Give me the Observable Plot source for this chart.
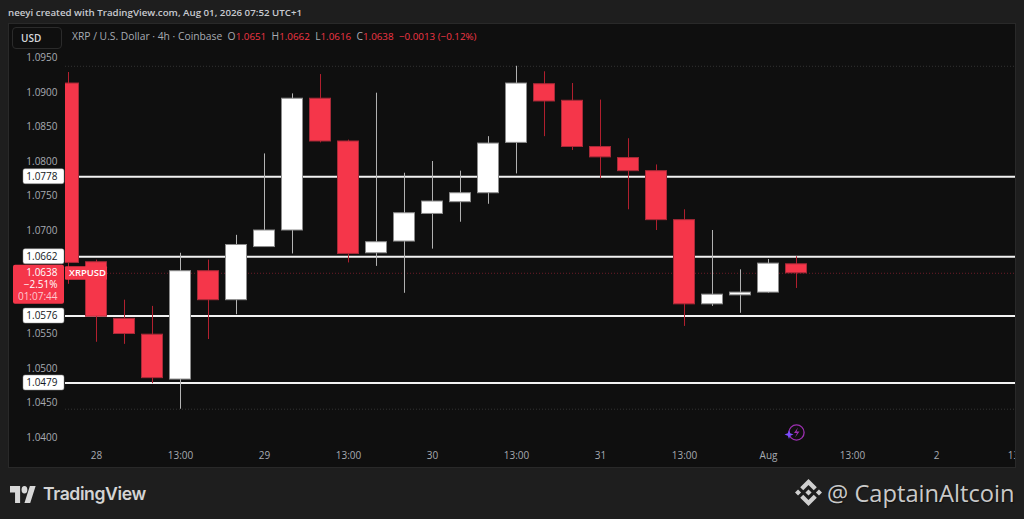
<!DOCTYPE html>
<html>
<head>
<meta charset="utf-8">
<script src="https://cdn.jsdelivr.net/npm/d3@7"></script>
<script src="https://cdn.jsdelivr.net/npm/@observablehq/plot@0.6"></script>
<style>
html,body{margin:0;padding:0;background:#1e1e1e;width:1024px;height:519px;overflow:hidden;font-family:"Open Sans",sans-serif}
#page{position:relative;width:1024px;height:519px}
#credit{position:absolute;left:8px;top:5px;font-size:9.72px;font-weight:600;color:#c9cbd1;white-space:nowrap;line-height:16px}
#chart{position:absolute;left:9px;top:24px;width:1006px;height:443px;outline:1px solid #292929}
#chart svg{display:block;overflow:hidden}
#unit{position:absolute;left:12px;top:27px;width:48px;height:20px;border:1px solid #2b2b2b;border-radius:4px;color:#d6d8dd;font-size:10px;font-weight:600;line-height:20px;text-indent:8px}
#legend{position:absolute;left:72px;top:29px;font-size:10.3px;color:#a8abb2;white-space:pre;line-height:15px}
#legend b{font-weight:400;color:#f23645;font-size:9.8px}
#tvlogo{position:absolute;left:10px;top:486px}
#tvname{position:absolute;left:43px;top:480px;font-family:Inter,sans-serif;font-size:17.6px;font-weight:600;color:#d4d4d4;letter-spacing:-.4px;line-height:28px}
#bnb{position:absolute;left:795px;top:479px}
#captain{position:absolute;left:827px;top:475px;font-size:23.7px;color:#c9c9c9;line-height:36px;white-space:nowrap;text-shadow:1px 1px 1px #111}
#spark{position:absolute;left:783px;top:421px}
</style>
</head>
<body>
<div id="page">
  <div id="credit">neeyi created with TradingView.com, Aug 01, 2026 07:52 UTC+1</div>
  <div id="chart"></div>
  <div id="unit">USD</div>
  <div id="legend">XRP / U.S. Dollar · 4h · Coinbase  O<b>1.0651</b>  H<b>1.0662</b>  L<b>1.0616</b>  C<b>1.0638</b>  <b>−0.0013 (−0.12%)</b></div>
  <svg id="spark" width="24" height="24" viewBox="0 0 24 24">
    <circle cx="13.5" cy="11.5" r="7.6" fill="none" stroke="#9c2fb0" stroke-width="1.3"/>
    <path d="M15 6.5l-4 5.5h3l-2 4.5 4.5-6h-3z" fill="#9c2fb0"/>
    <path d="M6 9l1.2 3.3L10.5 13.500l-3.300 1.200L6 18l-1.200-3.300L1.500 13.500l3.300-1.200z" fill="#7c4dff"/>
  </svg>
  <svg id="tvlogo" width="26" height="17" viewBox="0 4 36 18" preserveAspectRatio="none"><path fill="#d8d8d8" d="M14 22H7V11H0V4h14v18zM28 22h-8l7.500-18h8L28 22z"/><circle fill="#d8d8d8" cx="20" cy="8" r="4"/></svg>
  <div id="tvname">TradingView</div>
  <svg id="bnb" width="27" height="27" viewBox="0 0 126.610 126.610"><path fill="#cfcfcf" d="M38.730 53.200l24.590-24.580 24.600 24.600 14.300-14.310L63.320 0 24.420 38.900zM0 63.310l14.300-14.310 14.310 14.310-14.310 14.300zM38.730 73.410L63.320 98l24.600-24.600 14.310 14.290-38.900 38.910-38.900-38.900-.02-.02zM98 63.310l14.300-14.310 14.310 14.300-14.310 14.320zM77.830 63.300L63.320 48.780 52.590 59.510l-1.240 1.230-2.540 2.540 14.510 14.500 14.500-14.500z"/></svg>
  <div id="captain">@ CaptainAltcoin</div>
</div>
<script>
const times = ["2026-07-27T21:00Z","2026-07-28T01:00Z","2026-07-28T05:00Z","2026-07-28T09:00Z","2026-07-28T13:00Z","2026-07-28T17:00Z","2026-07-28T21:00Z",
  "2026-07-29T01:00Z","2026-07-29T05:00Z","2026-07-29T09:00Z","2026-07-29T13:00Z","2026-07-29T17:00Z","2026-07-29T21:00Z",
  "2026-07-30T01:00Z","2026-07-30T05:00Z","2026-07-30T09:00Z","2026-07-30T13:00Z","2026-07-30T17:00Z","2026-07-30T21:00Z",
  "2026-07-31T01:00Z","2026-07-31T05:00Z","2026-07-31T09:00Z","2026-07-31T13:00Z","2026-07-31T17:00Z","2026-07-31T21:00Z",
  "2026-08-01T01:00Z","2026-08-01T05:00Z"];
const opens  = [1.0913,1.0654,1.0572,1.0549,1.0484,1.0641,1.0599,1.0676,1.0700,1.0891,1.0829,1.0667,1.0684,1.0724,1.0741,1.0754,1.0827,1.0912,1.0888,1.0821,1.0805,1.0786,1.0715,1.0593,1.0606,1.0610,1.0651];
const highs  = [1.0929,1.0657,1.0599,1.0590,1.0667,1.0657,1.0693,1.0811,1.0898,1.0926,1.0831,1.0899,1.0783,1.0800,1.0786,1.0836,1.0938,1.0930,1.0913,1.0889,1.0833,1.0795,1.0730,1.0700,1.0643,1.0658,1.0662];
const lows   = [1.0622,1.0538,1.0535,1.0478,1.0441,1.0542,1.0578,1.0676,1.0666,1.0827,1.0653,1.0648,1.0609,1.0673,1.0712,1.0738,1.0782,1.0836,1.0816,1.0775,1.0730,1.0700,1.0561,1.0590,1.0580,1.0609,1.0616];
const closes = [1.0653,1.0575,1.0550,1.0486,1.0641,1.0599,1.0679,1.0700,1.0891,1.0829,1.0666,1.0683,1.0725,1.0742,1.0754,1.0826,1.0913,1.0887,1.0821,1.0806,1.0786,1.0715,1.0593,1.0607,1.0610,1.0652,1.0638];

const levels = [1.0778,1.0662,1.0576,1.0479];
const rangeMarks = [1.0938,1.0441];
const lastPrice = 1.0638;
const priceTicks = [1.04,1.045,1.05,1.055,1.07,1.075,1.08,1.085,1.09,1.095];
const timeTicks = ["2026-07-28T01:00Z","2026-07-28T13:00Z","2026-07-29T01:00Z","2026-07-29T13:00Z","2026-07-30T01:00Z","2026-07-30T13:00Z","2026-07-31T01:00Z","2026-07-31T13:00Z","2026-08-01T01:00Z","2026-08-01T13:00Z","2026-08-02T01:00Z","2026-08-02T13:00Z"];
const timeLabels = ["28","13:00","29","13:00","30","13:00","31","13:00","Aug","13:00","2","13:00"];
const lastTagLines = ["1.0638","−2.51%","01:07:44"];
const symbol = "XRPUSD";

const candles = times.map((t,i)=>({time:new Date(t),open:opens[i],high:highs[i],low:lows[i],close:closes[i]}));
const up = d => d.close >= d.open;
const red = "#f5364a", white = "#ffffff";
const xDomain = [new Date("2026-07-27T20:34:17Z"), new Date("2026-08-02T12:17:09Z")];
const left = () => xDomain[0];
const font = "Open Sans, sans-serif";

const plot = Plot.plot({
  width:1006, height:443,
  marginLeft:56, marginRight:0, marginTop:0, marginBottom:20,
  style:{background:"#0f0f0f", fontFamily:font, fontSize:"10px", color:"#a8abb2"},
  x:{type:"utc", domain:xDomain, range:[56,1006], axis:null},
  y:{domain:[1.04,1.09], range:[413,68], axis:null},
  color:{type:"identity"},
  marks:[
    Plot.axisY({ticks:priceTicks, tickFormat:d3.format(".4f"), tickSize:0, tickPadding:8, fontSize:10, fill:"#a8abb2", label:null}),
    Plot.axisX({ticks:timeTicks.map(d=>new Date(d)), tickFormat:d=>timeLabels[timeTicks.findIndex(t=>+new Date(t)===+d)], tickSize:0, tickPadding:4, fontSize:10, fill:"#a8abb2", label:null}),
    Plot.ruleY(rangeMarks,{stroke:"#333333", strokeWidth:1, strokeDasharray:"1 2"}),
    Plot.ruleY([lastPrice],{stroke:"#6e1c27", strokeWidth:1, strokeDasharray:"1 2"}),
    Plot.ruleY(levels,{stroke:"#f2f2f2", strokeWidth:2}),
    Plot.ruleX(candles,{x:"time", y1:"low", y2:"high", stroke:d=>up(d)?"#b4b4b4":"#b3202f", strokeWidth:1, clip:true}),
    Plot.rect(candles,{x1:"time", x2:"time", y1:"open", y2:"close", insetLeft:-10.5, insetRight:-10.5,
      fill:d=>up(d)?white:red, stroke:d=>up(d)?"#8c8c8c":"#a82a38", strokeWidth:1, clip:true}),
    // white level tags in the price gutter
    Plot.rect(levels,{x1:left, x2:left, y1:d=>d, y2:d=>d, insetLeft:-42, insetRight:1, insetTop:-7.5, insetBottom:-7.5, fill:"#ffffff", stroke:"#8c8c8c", strokeWidth:.5, rx:2}),
    Plot.text(levels,{x:left, y:d=>d, text:d3.format(".4f"), textAnchor:"end", dx:-8, fill:"#131722", fontSize:10}),
    // last price tag
    Plot.rect([lastPrice],{x1:left, x2:left, y1:d=>d, y2:d=>d, insetLeft:-52, insetRight:1, insetTop:-8, insetBottom:-31, fill:red, rx:2}),
    Plot.text([lastTagLines[0]],{x:left, y:()=>lastPrice, text:d=>d, textAnchor:"end", dx:-8, fill:"#ffffff", fontSize:10}),
    Plot.text([lastTagLines[1]],{x:left, y:()=>lastPrice, text:d=>d, dy:12, textAnchor:"end", dx:-8, fill:"#ffffff", fontSize:10}),
    Plot.text([lastTagLines[2]],{x:left, y:()=>lastPrice, text:d=>d, dy:24, textAnchor:"end", dx:-8, fill:"#ffc9cf", fontSize:10}),
    Plot.rect([lastPrice],{x1:left, x2:left, y1:d=>d, y2:d=>d, insetLeft:0, insetRight:-42, insetTop:-6.5, insetBottom:-7, fill:red, rx:1}),
    Plot.text([symbol],{x:left, y:()=>lastPrice, text:d=>d, dx:22, textAnchor:"middle", fill:"#ffffff", fontSize:9.5, fontWeight:600})
  ]
});
document.getElementById("chart").append(plot);
</script>
</body>
</html>
